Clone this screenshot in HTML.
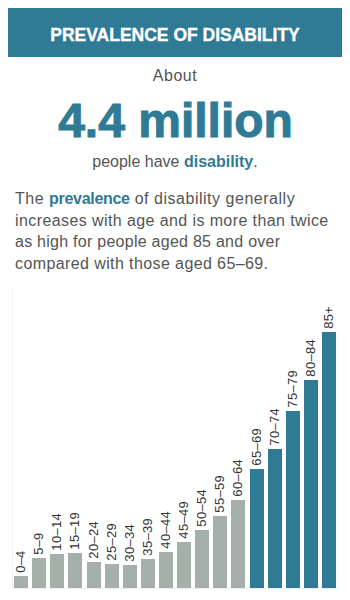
<!DOCTYPE html>
<html><head><meta charset="utf-8">
<style>
html,body{margin:0;padding:0;background:#fff;width:350px;height:600px;overflow:hidden;position:relative;font-family:"Liberation Sans",sans-serif;}
.hdr{position:absolute;left:8px;top:8px;width:334px;height:49px;background:#2f7a95;}
.t{position:absolute;line-height:1;white-space:nowrap;}
.h1{left:0;width:350px;text-align:center;top:26.5px;font-size:17.5px;font-weight:bold;color:#fff;-webkit-text-stroke:0.35px #fff;}
.about{left:0;width:350px;text-align:center;top:67.5px;font-size:16px;letter-spacing:0.5px;color:#555;}
.big{left:0.5px;width:350px;text-align:center;top:96.8px;font-size:48px;font-weight:bold;color:#2f7a95;-webkit-text-stroke:1px #2f7a95;}
.big span{letter-spacing:0;}
.ppl{left:0;width:350px;text-align:center;top:153.6px;font-size:16px;color:#555;}
.ppl b,.para b{color:#2f7a95;}
.para{position:absolute;left:15px;top:188px;width:340px;font-size:16px;line-height:21.7px;letter-spacing:0.38px;color:#555;}
svg{position:absolute;left:0;top:0;}
svg text{font-family:"Liberation Sans",sans-serif;font-size:13px;letter-spacing:0.35px;fill:#333;}
</style></head><body>
<div class="hdr"></div>
<div class="t h1">PREVALENCE OF DISABILITY</div>
<div class="t about">About</div>
<div class="t big"><span>4.4</span> million</div>
<div class="t ppl">people have <b>disability</b>.</div>
<div class="para"><span style="letter-spacing:0.52px">The <b style="letter-spacing:-0.3px">prevalence</b> of disability generally</span><br><span style="letter-spacing:0.405px">increases with age and is more than twice</span><br><span style="letter-spacing:0.26px">as high for people aged 85 and over</span><br><span style="letter-spacing:0.40px">compared with those aged 65–69.</span></div>
<svg width="350" height="600" viewBox="0 0 350 600">
<line x1="12.5" y1="287" x2="12.5" y2="588.5" stroke="#f2f2f2" stroke-width="1"/>
<line x1="12" y1="588.5" x2="339" y2="588.5" stroke="#f0f0f0" stroke-width="1"/>
<rect x="14.00" y="576.0" width="14" height="12.0" fill="#a6b0aa"/>
<rect x="32.00" y="558.0" width="14" height="30.0" fill="#a6b0aa"/>
<rect x="50.00" y="554.0" width="14" height="34.0" fill="#a6b0aa"/>
<rect x="68.00" y="553.0" width="14" height="35.0" fill="#a6b0aa"/>
<rect x="87.00" y="562.0" width="14" height="26.0" fill="#a6b0aa"/>
<rect x="105.00" y="564.0" width="14" height="24.0" fill="#a6b0aa"/>
<rect x="123.00" y="565.0" width="14" height="23.0" fill="#a6b0aa"/>
<rect x="141.00" y="559.0" width="14" height="29.0" fill="#a6b0aa"/>
<rect x="159.00" y="552.0" width="14" height="36.0" fill="#a6b0aa"/>
<rect x="177.00" y="542.0" width="14" height="46.0" fill="#a6b0aa"/>
<rect x="195.00" y="530.0" width="14" height="58.0" fill="#a6b0aa"/>
<rect x="213.00" y="516.0" width="14" height="72.0" fill="#a6b0aa"/>
<rect x="231.00" y="500.0" width="14" height="88.0" fill="#a6b0aa"/>
<rect x="250.00" y="469.0" width="14" height="119.0" fill="#2f7a95"/>
<rect x="268.00" y="449.0" width="14" height="139.0" fill="#2f7a95"/>
<rect x="286.00" y="411.0" width="14" height="177.0" fill="#2f7a95"/>
<rect x="304.00" y="380.0" width="14" height="208.0" fill="#2f7a95"/>
<rect x="322.00" y="332.0" width="14" height="256.0" fill="#2f7a95"/>
<text transform="translate(21.00,572.7) rotate(-90)" dy="0.31em" style="letter-spacing:0.1px">0–4</text>
<text transform="translate(39.00,554.7) rotate(-90)" dy="0.31em" style="letter-spacing:0.1px">5–9</text>
<text transform="translate(57.00,550.7) rotate(-90)" dy="0.31em">10–14</text>
<text transform="translate(75.00,549.7) rotate(-90)" dy="0.31em">15–19</text>
<text transform="translate(94.00,558.7) rotate(-90)" dy="0.31em">20–24</text>
<text transform="translate(112.00,560.7) rotate(-90)" dy="0.31em">25–29</text>
<text transform="translate(130.00,561.7) rotate(-90)" dy="0.31em">30–34</text>
<text transform="translate(148.00,555.7) rotate(-90)" dy="0.31em">35–39</text>
<text transform="translate(166.00,548.7) rotate(-90)" dy="0.31em">40–44</text>
<text transform="translate(184.00,538.7) rotate(-90)" dy="0.31em">45–49</text>
<text transform="translate(202.00,526.7) rotate(-90)" dy="0.31em">50–54</text>
<text transform="translate(220.00,512.7) rotate(-90)" dy="0.31em">55–59</text>
<text transform="translate(238.00,496.7) rotate(-90)" dy="0.31em">60–64</text>
<text transform="translate(257.00,465.7) rotate(-90)" dy="0.31em">65–69</text>
<text transform="translate(275.00,445.7) rotate(-90)" dy="0.31em">70–74</text>
<text transform="translate(293.00,407.7) rotate(-90)" dy="0.31em">75–79</text>
<text transform="translate(311.00,376.7) rotate(-90)" dy="0.31em">80–84</text>
<text transform="translate(329.00,328.7) rotate(-90)" dy="0.31em" style="letter-spacing:0.1px">85+</text>
</svg>
</body></html>
